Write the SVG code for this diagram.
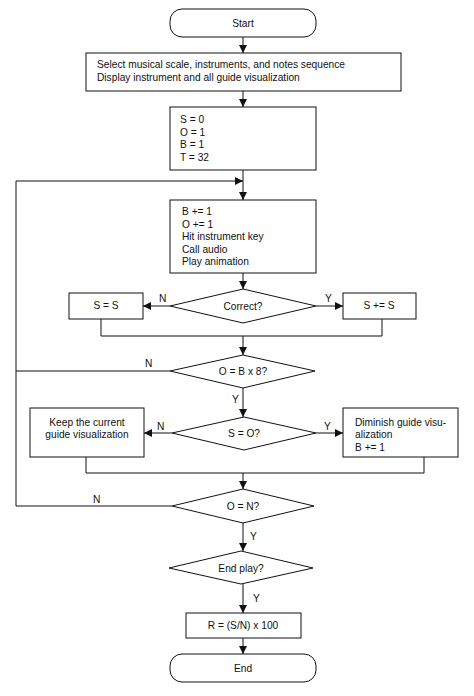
<svg xmlns="http://www.w3.org/2000/svg" width="474" height="696" viewBox="0 0 474 696">
<defs>
<marker id="ah" markerWidth="8" markerHeight="8" refX="8" refY="4" orient="auto" markerUnits="userSpaceOnUse">
<path d="M0,0 L8,4 L0,8 Z" fill="#111"/>
</marker>
<style>
.s{fill:#fff;stroke:#111;stroke-width:1}
.c{fill:none;stroke:#111;stroke-width:1}
.t{font-family:"Liberation Sans",Arial,sans-serif;font-size:10.2px;fill:#111}
.m{text-anchor:middle}
</style>
</defs>
<rect width="474" height="696" fill="#fff"/>
<g id="connectors">
<path class="c" d="M243,37 V53" marker-end="url(#ah)"/>
<path class="c" d="M243,91 V107" marker-end="url(#ah)"/>
<path class="c" d="M243,170 V200" marker-end="url(#ah)"/>
<path class="c" d="M16,506 V181 H243" marker-end="url(#ah)"/>
<path class="c" d="M243,273 V289" marker-end="url(#ah)"/>
<path class="c" d="M170,306 H143" marker-end="url(#ah)"/>
<path class="c" d="M316,306 H343" marker-end="url(#ah)"/>
<path class="c" d="M101,319 V336 H382 V319"/>
<path class="c" d="M243,336 V355" marker-end="url(#ah)"/>
<path class="c" d="M170,371 H16"/>
<path class="c" d="M243,388 V417" marker-end="url(#ah)"/>
<path class="c" d="M172,433 H144" marker-end="url(#ah)"/>
<path class="c" d="M316,433 H343" marker-end="url(#ah)"/>
<path class="c" d="M86,457 V473 H424 V457"/>
<path class="c" d="M243,473 V489" marker-end="url(#ah)"/>
<path class="c" d="M172,506 H16"/>
<path class="c" d="M243,523 V551" marker-end="url(#ah)"/>
<path class="c" d="M243,584 V613" marker-end="url(#ah)"/>
<path class="c" d="M243,638 V654" marker-end="url(#ah)"/>
<text class="t" x="159" y="302">N</text>
<text class="t" x="325" y="302">Y</text>
<text class="t" x="145" y="367">N</text>
<text class="t" x="232" y="403">Y</text>
<text class="t" x="157" y="430">N</text>
<text class="t" x="324" y="430">Y</text>
<text class="t" x="93" y="503">N</text>
<text class="t" x="250" y="540">Y</text>
<text class="t" x="253" y="602">Y</text>
</g>
<g id="start">
<rect class="s" x="170" y="9" width="146" height="28" rx="12" ry="12"/>
<text class="t m" x="243" y="27">Start</text>
</g>
<g id="select">
<rect class="s" x="86" y="53" width="315" height="38"/>
<text class="t" x="97" y="68">Select musical scale, instruments, and notes sequence</text>
<text class="t" x="97" y="81">Display instrument and all guide visualization</text>
</g>
<g id="init">
<rect class="s" x="170" y="107" width="146" height="63"/>
<text class="t" x="180" y="123">S = 0</text>
<text class="t" x="180" y="136">O = 1</text>
<text class="t" x="180" y="148">B = 1</text>
<text class="t" x="180" y="161">T = 32</text>
</g>
<g id="step">
<rect class="s" x="170" y="200" width="146" height="73"/>
<text class="t" x="182" y="215">B += 1</text>
<text class="t" x="182" y="228">O += 1</text>
<text class="t" x="182" y="240">Hit instrument key</text>
<text class="t" x="182" y="253">Call audio</text>
<text class="t" x="182" y="265">Play animation</text>
</g>
<g id="correct">
<polygon class="s" points="243,289 316,306 243,323 170,306"/>
<text class="t m" x="243" y="310">Correct?</text>
</g>
<g id="seqs">
<rect class="s" x="69" y="293" width="74" height="26"/>
<text class="t m" x="106" y="309">S = S</text>
</g>
<g id="splus">
<rect class="s" x="343" y="293" width="73" height="26"/>
<text class="t m" x="379" y="309">S += S</text>
</g>
<g id="obx8">
<polygon class="s" points="243,355 315,371 243,388 170,371"/>
<text class="t m" x="243" y="375">O = B x 8?</text>
</g>
<g id="seqo">
<polygon class="s" points="244,417 316,433 244,450 172,433"/>
<text class="t m" x="244" y="437">S = O?</text>
</g>
<g id="keep">
<rect class="s" x="30" y="408" width="114" height="49"/>
<text class="t m" x="87" y="426">Keep the current</text>
<text class="t m" x="87" y="438">guide visualization</text>
</g>
<g id="diminish">
<rect class="s" x="343" y="408" width="115" height="49"/>
<text class="t" x="355" y="426">Diminish guide visu-</text>
<text class="t" x="355" y="438">alization</text>
<text class="t" x="355" y="451">B += 1</text>
</g>
<g id="oen">
<polygon class="s" points="243,489 314,506 243,523 172,506"/>
<text class="t m" x="243" y="510">O = N?</text>
</g>
<g id="endplay">
<polygon class="s" points="241,551 313,568 241,584 169,568"/>
<text class="t m" x="241" y="572">End play?</text>
</g>
<g id="result">
<rect class="s" x="186" y="613" width="115" height="25"/>
<text class="t m" x="243" y="629">R = (S/N) x 100</text>
</g>
<g id="end">
<rect class="s" x="170" y="654" width="146" height="28" rx="12" ry="12"/>
<text class="t m" x="243" y="672">End</text>
</g>
</svg>
